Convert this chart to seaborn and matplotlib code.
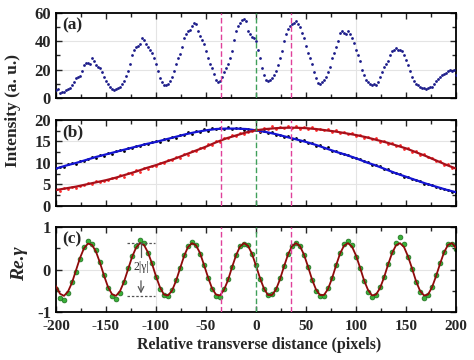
import numpy as np
import matplotlib
matplotlib.use('Agg')
import matplotlib.pyplot as plt
import seaborn as sns
from matplotlib.ticker import MultipleLocator

# Posiciones transversales (pixeles) de las muestras
x_px_a = np.arange(-200, 201, 2)
x_px = np.arange(-200, 201, 4)
x_fit_b = np.arange(-200, 201, 10)

# (a) Intensidad del patron de interferencia (una fila = 20 pixeles)
a_intensity = [5.5, 6.0, 3.5, 4.0, 4.5, 5.5, 6.5, 7.0, 9.0, 11.5,
               14.0, 15.0, 15.5, 19.0, 23.0, 24.5, 25.0, 24.0, 28.0, 26.0,
               23.0, 22.0, 21.0, 18.0, 15.0, 12.0, 10.0, 8.0, 6.0, 5.5,
               6.0, 7.0, 8.0, 10.0, 12.0, 15.5, 19.0, 24.0, 30.0, 34.0,
               36.0, 37.0, 38.0, 42.0, 41.0, 38.0, 36.0, 34.0, 32.0, 28.0,
               24.0, 19.0, 14.0, 11.0, 9.5, 9.0, 10.0, 12.0, 15.0, 19.0,
               24.0, 28.0, 31.0, 36.0, 42.0, 45.0, 47.0, 48.0, 51.0, 53.0,
               52.0, 47.0, 44.0, 41.0, 38.0, 33.0, 28.0, 24.0, 21.0, 17.0,
               13.0, 11.0, 12.0, 14.5, 18.0, 21.0, 24.0, 28.0, 33.0, 41.0,
               47.0, 51.0, 53.0, 55.0, 56.0, 54.0, 47.0, 45.0, 43.0, 42.0,
               40.0, 34.0, 28.0, 21.0, 16.0, 13.0, 12.0, 13.0, 14.0, 16.0,
               19.0, 23.0, 28.0, 33.0, 40.0, 45.0, 49.0, 51.0, 52.0, 53.0,
               54.0, 52.0, 50.0, 46.0, 42.0, 37.0, 32.0, 28.0, 24.0, 18.0,
               14.0, 10.5, 10.0, 11.5, 13.0, 15.0, 18.0, 22.0, 28.0, 32.0,
               36.0, 40.0, 46.0, 47.0, 46.0, 45.0, 47.0, 45.0, 42.0, 39.0,
               34.0, 30.0, 26.0, 20.0, 16.0, 13.0, 11.0, 10.0, 9.0, 10.0,
               9.0, 11.0, 15.0, 18.0, 22.0, 24.0, 26.0, 30.0, 33.0, 34.0,
               35.0, 34.0, 34.0, 33.0, 30.0, 27.0, 23.0, 19.0, 15.0, 12.0,
               10.0, 9.0, 8.0, 7.0, 7.0, 6.5, 7.0, 7.5, 8.0, 10.0,
               12.0, 13.5, 15.0, 16.5, 17.0, 17.5, 19.0, 20.0, 19.0, 19.5,
               16.0]

# (b) Intensidades de cada haz (puntos) y sus ajustes (lineas)
b_black = [8.9, 9.1, 9.0, 9.7, 9.9, 9.8, 10.5, 10.4, 11.0, 11.3,
           11.2, 11.9, 11.7, 12.3, 12.2, 12.8, 13.0, 12.9, 13.6, 13.4,
           14.0, 13.9, 14.5, 14.3, 14.9, 15.1, 14.9, 15.6, 15.4, 16.1,
           15.9, 16.6, 16.4, 17.1, 16.8, 17.4, 17.2, 17.8, 17.5, 18.1,
           17.8, 18.2, 17.9, 18.3, 17.8, 18.1, 18.2, 17.7, 18.0, 17.6,
           17.7, 17.3, 17.5, 16.9, 17.1, 16.6, 16.5, 16.0, 16.2, 15.6,
           15.7, 15.1, 15.3, 14.6, 14.7, 14.0, 14.1, 13.4, 13.7, 12.8,
           12.9, 12.3, 12.1, 11.9, 11.3, 11.2, 10.9, 10.5, 10.2, 9.6,
           9.5, 9.2, 8.6, 8.5, 7.9, 7.7, 7.4, 6.8, 6.8, 6.2,
           6.1, 5.8, 5.2, 5.2, 4.8, 4.4, 4.3, 3.9, 3.8, 3.3,
           3.2]
b_red = [3.9, 3.5, 4.1, 4.0, 4.5, 4.3, 4.7, 4.9, 5.3, 5.1,
         5.7, 5.5, 5.9, 6.1, 6.6, 6.4, 7.1, 6.8, 7.7, 7.5,
         8.3, 8.0, 8.9, 8.7, 9.4, 9.3, 10.1, 9.9, 10.6, 10.8,
         11.4, 11.2, 12.1, 11.8, 12.9, 12.7, 13.5, 13.4, 14.3, 14.1,
         15.1, 14.9, 15.7, 15.8, 16.5, 16.2, 17.0, 16.8, 17.3, 17.5,
         17.9, 17.5, 18.2, 17.8, 18.5, 18.0, 18.4, 18.1, 18.6, 18.2,
         18.5, 18.0, 18.4, 17.9, 18.3, 17.7, 18.0, 17.6, 17.8, 17.2,
         17.6, 16.9, 17.3, 16.7, 17.0, 16.3, 16.6, 15.9, 16.1, 15.5,
         15.7, 14.9, 15.2, 14.5, 14.6, 13.9, 14.1, 13.3, 13.5, 12.6,
         12.8, 11.9, 12.0, 11.3, 11.2, 10.4, 10.5, 9.6, 9.7, 8.8,
         8.5]
b_blue_fit = [8.7, 9.4, 10.0, 10.7, 11.4, 12.0, 12.6, 13.2, 13.8, 14.4,
              14.9, 15.5, 16.1, 16.7, 17.2, 17.6, 17.9, 18.0, 18.0, 17.9,
              17.6, 17.2, 16.7, 16.1, 15.5, 14.9, 14.2, 13.4, 12.6, 11.9,
              11.1, 10.2, 9.4, 8.5, 7.6, 6.8, 6.0, 5.2, 4.5, 3.8,
              3.2]
b_red_fit = [3.7, 4.1, 4.5, 5.0, 5.5, 6.0, 6.6, 7.3, 8.0, 8.8,
             9.5, 10.3, 11.1, 12.0, 12.9, 13.8, 14.8, 15.7, 16.4, 17.1,
             17.6, 17.9, 18.1, 18.2, 18.2, 18.1, 17.9, 17.6, 17.3, 16.9,
             16.5, 16.0, 15.4, 14.8, 14.1, 13.4, 12.5, 11.6, 10.6, 9.6,
             8.7]

# (c) Parte real del grado de coherencia (puntos) y su ajuste
c_re_gamma = [-0.45, -0.66, -0.72, -0.55, -0.30, -0.05, 0.24, 0.52, 0.66, 0.60,
              0.45, 0.18, -0.12, -0.43, -0.63, -0.70, -0.55, -0.30, 0.03, 0.32,
              0.56, 0.70, 0.62, 0.38, 0.15, -0.18, -0.45, -0.60, -0.63, -0.48,
              -0.25, 0.03, 0.33, 0.55, 0.64, 0.57, 0.37, 0.10, -0.20, -0.47,
              -0.62, -0.64, -0.46, -0.23, 0.06, 0.35, 0.55, 0.60, 0.57, 0.36,
              0.10, -0.22, -0.47, -0.61, -0.58, -0.45, -0.20, 0.09, 0.37, 0.56,
              0.63, 0.56, 0.33, 0.05, -0.25, -0.50, -0.63, -0.62, -0.44, -0.20,
              0.11, 0.40, 0.60, 0.68, 0.58, 0.30, 0.03, -0.28, -0.52, -0.65,
              -0.60, -0.42, -0.17, 0.14, 0.42, 0.62, 0.76, 0.60, 0.30, 0.02,
              -0.29, -0.53, -0.66, -0.60, -0.40, -0.13, 0.15, 0.42, 0.60, 0.60,
              0.48]
c_fit = [-0.39, -0.57, -0.62, -0.52, -0.31, -0.02, 0.27, 0.50, 0.61, 0.58,
         0.42, 0.16, -0.14, -0.41, -0.58, -0.62, -0.51, -0.29, 0.00, 0.29,
         0.51, 0.62, 0.58, 0.40, 0.14, -0.16, -0.42, -0.59, -0.61, -0.50,
         -0.27, 0.02, 0.31, 0.53, 0.62, 0.57, 0.39, 0.11, -0.18, -0.44,
         -0.59, -0.61, -0.48, -0.25, 0.05, 0.33, 0.54, 0.62, 0.56, 0.37,
         0.09, -0.20, -0.45, -0.60, -0.60, -0.47, -0.23, 0.07, 0.35, 0.55,
         0.62, 0.55, 0.35, 0.07, -0.23, -0.47, -0.60, -0.60, -0.46, -0.21,
         0.09, 0.37, 0.56, 0.62, 0.54, 0.33, 0.05, -0.25, -0.48, -0.61,
         -0.59, -0.44, -0.19, 0.11, 0.38, 0.57, 0.62, 0.53, 0.31, 0.03,
         -0.27, -0.50, -0.61, -0.59, -0.42, -0.16, 0.13, 0.40, 0.58, 0.62,
         0.51]

# Lineas verticales de referencia y marca de amplitud
side_lines = [-35, 35]
center_line = 0
amp_x = -115
amp_top, amp_bottom = 0.62, -0.63

sns.set_style('ticks')
plt.rcParams['font.family'] = ['Liberation Serif', 'DejaVu Serif']
plt.rcParams['font.weight'] = 'bold'
plt.rcParams['axes.unicode_minus'] = False

fig = plt.figure(figsize=(4.74, 3.6), dpi=100)
ax_a = fig.add_axes([0.1181, 0.7278, 0.8439, 0.2361])
ax_b = fig.add_axes([0.1181, 0.4278, 0.8439, 0.2389])
ax_c = fig.add_axes([0.1181, 0.1333, 0.8439, 0.2361])

grid_kw = dict(color='#e4e4e4', lw=0.8, zorder=0)


def style_axis(ax, ymin, ymax, ymajor, yminor, hgrid, letter):
    ax.set_xlim(-200, 200)
    ax.set_ylim(ymin, ymax)
    ax.xaxis.set_major_locator(MultipleLocator(50))
    ax.xaxis.set_minor_locator(MultipleLocator(25))
    ax.yaxis.set_major_locator(MultipleLocator(ymajor))
    ax.yaxis.set_minor_locator(MultipleLocator(yminor))
    ax.tick_params(which='both', direction='in', top=True, right=True, width=1)
    ax.tick_params(which='major', length=4, labelsize=12)
    ax.tick_params(which='minor', length=3)
    for sp in ax.spines.values():
        sp.set_linewidth(1.3)
        sp.set_color('black')
    for v in [-100, 100]:
        ax.axvline(v, **grid_kw)
    for h in hgrid:
        ax.axhline(h, **grid_kw)
    for v in side_lines:
        ax.axvline(v, color='#e0409a', lw=1, ls=(0, (4, 2)), zorder=4)
    ax.axvline(center_line, color='#3f9f5a', lw=1, ls=(0, (4, 2)), zorder=4)
    ax.text(0.016, 0.86, letter, transform=ax.transAxes, fontsize=12.5,
            fontweight='bold', va='center', ha='left')
    ax.set_xlabel('')
    ax.set_ylabel('')


# (a)
sns.scatterplot(x=x_px_a, y=a_intensity, ax=ax_a, color='#1c1c8a', s=4,
                linewidth=0, zorder=3)
style_axis(ax_a, 0, 60, 20, 10, [20, 40], '(a)')
ax_a.tick_params(labelbottom=False)

# (b)
sns.scatterplot(x=x_px, y=b_black, ax=ax_b, color='black', s=4,
                linewidth=0, zorder=2)
sns.scatterplot(x=x_px, y=b_red, ax=ax_b, color='#ff2a2a', s=4,
                linewidth=0, zorder=2)
sns.lineplot(x=x_fit_b, y=b_blue_fit, ax=ax_b, color='#1414d2', lw=1.6,
             estimator=None, zorder=3)
sns.lineplot(x=x_fit_b, y=b_red_fit, ax=ax_b, color='#a8101a', lw=1.6,
             estimator=None, zorder=3)
style_axis(ax_b, 0, 20, 5, 2.5, [5, 10, 15], '(b)')
ax_b.tick_params(labelbottom=False)

# (c)
sns.scatterplot(x=x_px, y=c_re_gamma, ax=ax_c, color='#39b039', s=12,
                edgecolor='#1d6b1d', linewidth=0.5, zorder=2)
sns.lineplot(x=x_px, y=c_fit, ax=ax_c, color='#8e0a0a', lw=1.3,
             estimator=None, zorder=3)
style_axis(ax_c, -1, 1, 1, 0.5, [0], '(c)')
ax_c.tick_params(axis='x', which='major', labelsize=11, pad=6)

# marca 2|gamma|
for yy in [amp_top, amp_bottom]:
    ax_c.plot([amp_x - 14, amp_x + 14], [yy, yy], color='#555555', lw=0.9,
              ls=(0, (2, 1.5)), zorder=5)
ax_c.plot([amp_x, amp_x], [amp_top, 0.3], color='#555555', lw=0.9, zorder=5)
ax_c.annotate('', xy=(amp_x, amp_bottom), xytext=(amp_x, -0.2),
              arrowprops=dict(arrowstyle='->', color='#555555', lw=0.9), zorder=5)
ax_c.text(amp_x, 0.05, '2|γ|', fontsize=8.5, fontweight='normal', color='#333333',
          ha='center', va='center', zorder=6)

fig.text(0.028, 0.694, 'Intensity (a. u.)', rotation=90, fontsize=12.5,
         fontweight='bold', ha='center', va='center')
fig.text(0.042, 0.267, 'Re.γ', rotation=90, fontsize=14, fontweight='bold',
         style='italic', ha='center', va='center')
fig.text(0.547, 0.042, 'Relative transverse distance (pixels)', fontsize=11.5,
         fontweight='bold', ha='center', va='center')

fig.savefig('out.png', dpi=100)
